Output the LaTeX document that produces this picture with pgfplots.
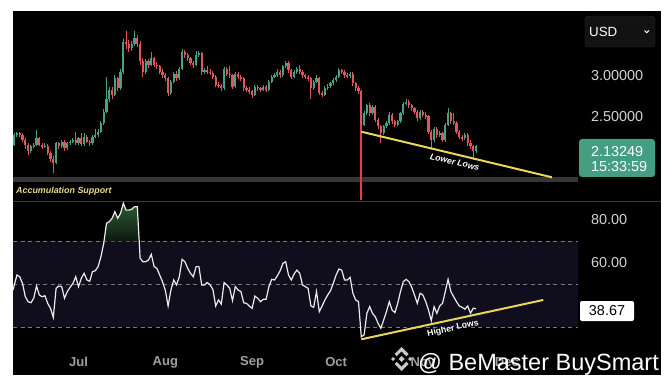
\documentclass[border=0pt]{standalone}
\usepackage{pgfplots}
\pgfplotsset{compat=1.18}
\usepackage{pgfplotstable}
\usepackage{fontspec}
\setmainfont{Liberation Sans}

\definecolor{upc}{HTML}{46A283}
\definecolor{downc}{HTML}{E0565B}
\definecolor{trend}{HTML}{E8D75A}
\definecolor{bandc}{HTML}{100D1C}
\definecolor{dashc}{HTML}{7A7A7A}
\definecolor{greenlab}{HTML}{449E82}
\definecolor{lblc}{HTML}{D2D2D2}
\definecolor{xlblc}{HTML}{A0A0A0}
\definecolor{accuc}{HTML}{EAD98A}
\definecolor{sepc}{HTML}{3A3A3A}
\definecolor{zonec}{HTML}{363636}

% day index: 0 = 1 Jul
\pgfplotstableread{
d o h l c
-23 2.15 2.29 2.13 2.27
-22 2.27 2.31 2.25 2.29
-17 2.07 2.15 2.05 2.13
-16 2.13 2.17 2.11 2.15
-15 2.15 2.33 2.13 2.23
-12 2.13 2.17 2.11 2.14
-8 1.93 2.19 1.91 2.17
-6 2.13 2.21 2.11 2.19
-4 2.11 2.19 2.09 2.17
-3 2.17 2.21 2.15 2.19
-2 2.19 2.24 2.17 2.21
0 2.17 2.25 2.15 2.23
2 2.16 2.29 2.14 2.25
5 2.17 2.27 2.15 2.25
6 2.25 2.35 2.23 2.27
7 2.27 2.34 2.25 2.31
8 2.31 2.44 2.29 2.42
9 2.42 2.59 2.40 2.56
10 2.56 2.99 2.54 2.72
11 2.72 2.86 2.68 2.83
13 2.77 3.01 2.75 2.97
15 2.85 3.08 2.83 3.05
16 3.05 3.46 3.02 3.42
19 3.34 3.43 3.31 3.40
20 3.40 3.55 3.37 3.47
24 3.05 3.21 3.03 3.18
26 3.14 3.29 3.12 3.22
33 2.79 2.95 2.77 2.93
34 2.93 3.05 2.91 3.03
36 2.97 3.11 2.95 3.09
37 3.09 3.33 3.07 3.30
42 3.14 3.31 3.12 3.26
43 3.26 3.31 3.24 3.28
45 3.05 3.10 3.02 3.07
52 2.85 3.11 2.83 3.09
56 2.87 3.05 2.85 3.03
63 2.77 2.89 2.75 2.87
66 2.83 2.89 2.81 2.87
68 2.83 2.95 2.81 2.93
69 2.93 3.01 2.91 2.99
70 2.99 3.04 2.97 3.01
71 3.01 3.08 2.99 3.05
73 3.01 3.14 2.99 3.12
74 3.12 3.19 3.10 3.16
77 2.99 3.07 2.97 3.05
78 3.05 3.11 3.03 3.09
84 2.85 2.95 2.83 2.93
85 2.93 3.01 2.91 2.97
88 2.77 2.87 2.75 2.85
89 2.85 2.90 2.83 2.87
90 2.87 2.93 2.85 2.91
91 2.91 2.97 2.89 2.95
92 2.95 3.01 2.93 2.99
93 2.99 3.10 2.97 3.07
97 3.00 3.05 2.98 3.03
102 2.40 2.57 2.38 2.54
103 2.54 2.66 2.52 2.64
105 2.54 2.64 2.52 2.62
109 2.29 2.40 2.27 2.38
110 2.38 2.45 2.36 2.42
111 2.42 2.56 2.40 2.52
114 2.40 2.46 2.38 2.44
115 2.44 2.56 2.42 2.54
116 2.54 2.68 2.52 2.66
117 2.66 2.72 2.64 2.68
122 2.48 2.58 2.46 2.56
127 2.21 2.37 2.19 2.35
129 2.27 2.32 2.25 2.29
131 2.21 2.42 2.19 2.40
132 2.40 2.60 2.38 2.54
138 2.23 2.29 2.21 2.27
142 2.07 2.15 2.05 2.13
}\upt

\pgfplotstableread{
d o h l c
-21 2.29 2.31 2.25 2.27
-20 2.27 2.29 2.19 2.21
-19 2.21 2.23 2.10 2.15
-18 2.15 2.17 2.02 2.07
-14 2.23 2.25 2.13 2.15
-13 2.15 2.17 2.10 2.13
-11 2.14 2.16 2.03 2.05
-10 2.05 2.07 1.94 1.98
-9 1.98 2.01 1.80 1.93
-7 2.17 2.19 2.10 2.13
-5 2.19 2.21 2.08 2.11
-1 2.21 2.31 2.15 2.17
1 2.23 2.29 2.14 2.16
3 2.25 2.27 2.17 2.19
4 2.19 2.21 2.14 2.17
12 2.83 2.86 2.72 2.77
14 2.97 2.99 2.81 2.85
17 3.42 3.55 3.33 3.40
18 3.40 3.44 3.30 3.34
21 3.47 3.50 3.36 3.40
22 3.40 3.43 3.13 3.18
23 3.18 3.22 2.99 3.05
25 3.18 3.21 3.10 3.14
27 3.22 3.24 3.11 3.14
28 3.14 3.17 3.09 3.12
29 3.12 3.14 3.02 3.05
30 3.05 3.08 2.98 3.01
31 3.01 3.04 2.94 2.97
32 2.97 2.99 2.75 2.79
35 3.03 3.06 2.94 2.97
38 3.30 3.32 3.22 3.26
39 3.26 3.28 3.19 3.22
40 3.22 3.24 3.13 3.16
41 3.16 3.18 3.10 3.14
44 3.28 3.30 3.01 3.05
46 3.07 3.12 3.03 3.05
47 3.05 3.08 3.01 3.04
48 3.04 3.06 2.96 2.99
49 2.99 3.01 2.86 2.89
50 2.89 2.92 2.85 2.88
51 2.88 2.90 2.82 2.85
53 3.09 3.11 3.00 3.03
54 3.03 3.12 2.98 3.01
55 3.01 3.03 2.84 2.87
57 3.03 3.05 2.96 2.99
58 2.99 3.01 2.94 2.97
59 2.97 2.99 2.82 2.85
60 2.85 2.88 2.80 2.83
61 2.83 2.86 2.78 2.81
62 2.81 2.83 2.73 2.77
64 2.87 2.89 2.82 2.85
65 2.85 2.87 2.80 2.83
67 2.87 2.89 2.80 2.83
72 3.05 3.07 2.98 3.01
75 3.16 3.18 3.04 3.07
76 3.07 3.09 2.96 2.99
79 3.09 3.14 3.02 3.05
80 3.05 3.07 2.98 3.01
81 3.01 3.03 2.96 2.99
82 2.99 3.01 2.94 2.97
83 2.97 2.99 2.72 2.85
86 2.97 2.99 2.76 2.79
87 2.79 2.81 2.74 2.77
94 3.07 3.09 3.02 3.05
95 3.05 3.07 2.98 3.01
96 3.01 3.04 2.97 3.00
98 3.03 3.05 2.88 2.91
99 2.91 2.93 2.82 2.85
100 2.85 2.87 2.78 2.81
101 2.81 2.83 1.30 2.40
104 2.64 2.67 2.51 2.54
106 2.62 2.64 2.43 2.46
107 2.46 2.48 2.35 2.38
108 2.38 2.40 2.17 2.29
112 2.52 2.54 2.41 2.44
113 2.44 2.46 2.37 2.40
118 2.68 2.70 2.61 2.64
119 2.64 2.66 2.57 2.60
120 2.60 2.62 2.53 2.56
121 2.56 2.58 2.45 2.48
123 2.56 2.58 2.49 2.52
124 2.52 2.55 2.47 2.50
125 2.50 2.52 2.28 2.31
126 2.31 2.33 2.09 2.21
128 2.35 2.37 2.24 2.27
130 2.29 2.31 2.18 2.21
133 2.54 2.56 2.41 2.44
134 2.44 2.54 2.39 2.42
135 2.42 2.44 2.28 2.31
136 2.31 2.33 2.22 2.25
137 2.25 2.27 2.20 2.23
139 2.27 2.29 2.14 2.17
140 2.17 2.21 2.10 2.13
141 2.13 2.15 1.96 2.07
}\downt

\pgfplotstableread{
d r
-23.4 47.4
-22 54.4
-21 53.6
-20 50.5
-19 44.3
-18 42.0
-17 41.5
-16 43.6
-15 49.3
-14 45.1
-13 44.3
-12 44.8
-11 41.2
-10 38.9
-9 34.7
-8 48.2
-7 49.3
-6 49.0
-5 43.6
-4 46.7
-3 48.7
-2 50.5
-1 53.6
0 49.0
1 52.9
2 55.2
3 52.1
4 51.5
5 56.0
6 56.4
7 58.3
8 62.9
9 69.1
10 78.5
11 79.2
12 80.8
13 83.9
14 80.8
15 83.1
16 87.8
17 84.6
18 84.6
19 85.0
20 86.2
21 86.2
22 62.2
23 60.6
24 60.6
25 61.4
26 64.0
27 58.3
28 57.5
29 54.4
30 51.3
31 47.4
32 40.0
33 47.4
34 52.1
35 49.8
36 53.6
37 61.7
38 60.6
39 57.5
40 55.2
41 53.6
42 58.3
43 58.3
44 49.8
45 49.8
46 50.9
47 49.8
48 47.7
49 40.0
50 42.8
51 40.9
52 50.9
53 49.8
54 48.2
55 42.5
56 49.0
57 47.4
58 46.7
59 41.5
60 41.2
61 40.0
62 38.9
63 44.6
64 43.6
65 42.0
66 43.1
67 43.1
68 49.0
69 52.4
70 52.1
71 54.0
72 56.4
73 59.8
74 60.6
75 54.4
76 52.1
77 54.9
78 56.7
79 55.2
80 49.8
81 49.0
82 48.2
83 40.0
84 39.4
85 46.7
86 37.4
87 40.0
88 42.8
89 45.1
90 47.1
91 50.5
92 54.4
93 57.2
94 56.7
95 52.1
96 52.1
97 53.3
98 45.9
99 42.8
100 42.0
101 25.7
102 26.5
103 36.6
104 39.7
105 36.6
106 35.0
107 31.9
108 29.6
109 33.5
110 37.4
111 42.0
112 38.1
113 36.9
114 41.2
115 46.7
116 51.3
117 52.4
118 51.3
119 48.7
120 45.1
121 41.2
122 45.9
123 45.1
124 42.0
125 38.1
126 33.2
127 39.7
128 36.6
129 40.0
130 41.2
131 46.7
132 52.4
133 46.7
134 44.3
135 42.0
136 40.0
137 39.4
138 38.5
139 40.0
140 36.6
141 39.0
142 38.67
}\rsit

\pgfplotsset{
  panel/.style={
    scale only axis, width=565pt, xmin=-23.4, xmax=178.4,
    anchor=south west,
    axis line style={draw=none}, major tick length=0pt, tick style={draw=none},
    /pgf/number format/assume math mode=true,
    yticklabel pos=right,
    yticklabel style={anchor=west, inner sep=0pt, xshift=13pt, text=lblc,
      font=\fontsize{14.4}{16}\selectfont},
  },
  wick/.style={draw=none, mark=none, forget plot,
    error bars/.cd, y dir=both, y explicit, error mark=none,
    error bar style={draw=#1, line width=0.9pt}},
  body/.style={draw=none, mark=none, forget plot,
    error bars/.cd, y dir=both, y explicit, error mark=none,
    error bar style={draw=#1, line width=2.2pt}},
}

\begin{document}
\begin{tikzpicture}
\useasboundingbox (0pt,0pt) rectangle (667pt,386pt);
\fill[white] (0pt,0pt) rectangle (667pt,386pt);
\fill[black] (12.7pt,11pt) rectangle (661pt,375pt);
\draw[sepc, line width=1.4pt] (12.7pt,184.5pt) -- (661pt,184.5pt);

% ---------- price panel ----------
\begin{axis}[panel, at={(13pt,186pt)}, height=189pt,
  ymin=1.469, ymax=3.802, xtick=\empty,
  ytick={2.5,3}, yticklabels={2.50000,3.00000}]
  \fill[zonec] (axis cs:-23.4,1.695) rectangle (axis cs:178.4,1.757);
  \addplot[wick=upc] table[x=d, y expr={(\thisrow{h}+\thisrow{l})/2}, y error expr={(\thisrow{h}-\thisrow{l})/2}] {\upt};
  \addplot[wick=downc] table[x=d, y expr={(\thisrow{h}+\thisrow{l})/2}, y error expr={(\thisrow{h}-\thisrow{l})/2}] {\downt};
  % the long lower wick of the 10 Oct candle
  \addplot[color={rgb,255:red,230;green,60;blue,66}, line width=1.6pt, mark=none, forget plot] coordinates {(101,2.40) (101,1.30)};
  \addplot[body=upc] table[x=d, y expr={(\thisrow{o}+\thisrow{c})/2}, y error expr={(\thisrow{c}-\thisrow{o})/2}] {\upt};
  \addplot[body=downc] table[x=d, y expr={(\thisrow{o}+\thisrow{c})/2}, y error expr={(\thisrow{o}-\thisrow{c})/2}] {\downt};
  \addplot[trend, line width=2pt] coordinates {(101,2.312) (169.1,1.749)};
  \node[rotate=-13, text=white, inner sep=0pt, font=\bfseries\itshape\fontsize{8.7}{10}\selectfont]
    at (axis cs:134.4,1.935) {Lower Lows};
\end{axis}

% ---------- RSI panel ----------
\begin{axis}[panel, at={(13pt,36pt)}, height=148pt,
  ymin=19.53, ymax=88.37,
  ytick={60,80}, yticklabels={60.00,80.00},
  xtick={0,31,62,92,123,153}, xticklabels={Jul,Aug,Sep,Oct,Nov,Dec},
  xticklabel style={anchor=center, yshift=-12pt, text=xlblc,
    font=\bfseries\fontsize{13}{15}\selectfont}]
  \fill[bandc] (axis cs:-23.4,30) rectangle (axis cs:178.4,70);
  \draw[dashc, line width=0.8pt, dash pattern=on 4pt off 3.5pt] (axis cs:-23.4,70) -- (axis cs:178.4,70);
  \draw[dashc, line width=0.8pt, dash pattern=on 4pt off 3.5pt] (axis cs:-23.4,50) -- (axis cs:178.4,50);
  \draw[dashc, line width=0.8pt, dash pattern=on 4pt off 3.5pt] (axis cs:-23.4,30) -- (axis cs:178.4,30);
  \addplot[draw=none, top color={rgb,255:red,47;green,92;blue,50}, bottom color={rgb,255:red,12;green,24;blue,15}]
    coordinates {(9.1,70) (10,78.5) (11,79.2) (12,80.8) (13,83.9) (14,80.8) (15,83.1) (16,87.8)
      (17,84.6) (18,84.6) (19,85.0) (20,86.2) (21,86.2) (21.67,70)} -- cycle;
  \addplot[color={rgb,255:red,236;green,236;blue,236}, line width=1.2pt, mark=none] table[x=d, y=r] {\rsit};
  \addplot[trend, line width=2pt] coordinates {(101,24.5) (166,42.8)};
  \node[rotate=12, text=white, inner sep=0pt, font=\bfseries\fontsize{8.7}{10}\selectfont]
    at (axis cs:133.75,29.5) {Higher Lows};
\end{axis}

% ---------- right scale decorations ----------
\draw[fill={rgb,255:red,18;green,18;blue,18}, draw={rgb,255:red,48;green,48;blue,48}, rounded corners=4pt]
  (585pt,339pt) rectangle (655pt,370pt);
\node[anchor=west, inner sep=0pt, text=white, font=\fontsize{13.3}{15}\selectfont] at (589pt,354.5pt) {USD};
\draw[white, line width=1pt] (644.5pt,355.5pt) -- (646.7pt,353.3pt) -- (648.9pt,355.5pt);

\fill[greenlab, rounded corners=3pt] (579pt,209pt) rectangle (655pt,247pt);
\node[anchor=west, inner sep=0pt, text=white, font=\fontsize{14.4}{16}\selectfont] at (591pt,234.5pt) {2.13249};
\node[anchor=west, inner sep=0pt, text=white, font=\fontsize{14.4}{16}\selectfont] at (591pt,219pt) {15:33:59};

\fill[white, rounded corners=2pt] (580pt,65pt) rectangle (634pt,85pt);
\node[inner sep=0pt, text=black, font=\fontsize{14.4}{16}\selectfont] at (607pt,75pt) {38.67};

\node[anchor=west, inner sep=0pt, text=accuc, font=\bfseries\itshape\fontsize{8.9}{10}\selectfont]
  at (16pt,195.3pt) {Accumulation Support};

% ---------- watermark ----------
\begin{scope}[shift={(401.5pt,27pt)}, fill={rgb,255:red,200;green,200;blue,200}]
  \fill (0pt,3pt) -- (3pt,0pt) -- (0pt,-3pt) -- (-3pt,0pt) -- cycle;
  \fill (-8.5pt,2pt) -- (-6.5pt,0pt) -- (-8.5pt,-2pt) -- (-10.5pt,0pt) -- cycle;
  \fill (8.5pt,2pt) -- (10.5pt,0pt) -- (8.5pt,-2pt) -- (6.5pt,0pt) -- cycle;
  \fill (0pt,12pt) -- (7pt,5pt) -- (4.8pt,2.8pt) -- (0pt,7.6pt) -- (-4.8pt,2.8pt) -- (-7pt,5pt) -- cycle;
  \fill (0pt,-12pt) -- (7pt,-5pt) -- (4.8pt,-2.8pt) -- (0pt,-7.6pt) -- (-4.8pt,-2.8pt) -- (-7pt,-5pt) -- cycle;
\end{scope}
\node[anchor=base west, inner sep=0pt, text=white, font=\fontsize{23.5}{26}\selectfont]
  at (418pt,15.6pt) {@ BeMaster BuySmart};
\end{tikzpicture}
\end{document}
